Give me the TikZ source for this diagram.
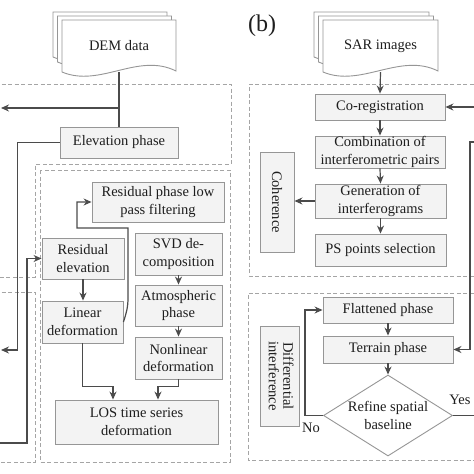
\documentclass[tikz,border=0pt]{standalone}
\usepackage{fontspec}
\setmainfont{Liberation Serif}
\usetikzlibrary{arrows.meta,shapes.geometric}
\definecolor{boxline}{RGB}{150,150,150}
\definecolor{boxfill}{RGB}{243,243,243}
\definecolor{lineclr}{RGB}{75,75,75}
\definecolor{dashclr}{RGB}{165,165,165}
\definecolor{txt}{RGB}{30,30,30}
\newcommand{\myfs}{\fontsize{14.5}{17.5}\selectfont}
\newcommand{\docshape}[4]{%
  \path[doc] (#1,{#2+#4}) -- (#1,#2) -- ({#1+#3},#2) -- ({#1+#3},{#2+#4-1})
    .. controls ({#1+#3-38},{#2+#4-20}) and ({#1+38},{#2+#4+16}) .. (#1,{#2+#4}) -- cycle;}
\begin{document}
\begin{tikzpicture}[x=1pt,y=-1pt,
  box/.style={draw=boxline, fill=boxfill, line width=0.9pt, inner sep=0pt, align=center, font=\myfs, text=txt},
  conn/.style={draw=lineclr, line width=1.2pt},
  arr/.style={conn, -{Stealth[length=8pt,width=7pt]}},
  dbox/.style={draw=dashclr, line width=0.8pt, dash pattern=on 4pt off 2.5pt},
  lbl/.style={font=\myfs, text=txt, inner sep=0pt},
  doc/.style={draw=boxline, fill=white, line width=0.9pt},
  doctext/.style={font=\myfs, text=txt, inner sep=0pt, minimum height=52pt},
]
\useasboundingbox (0,0) rectangle (474,474);
\clip (0,0) rectangle (474,474);

% dashed groups
\draw[dbox] (-5,84) -- (231,84) -- (231,164) -- (35,164) -- (35,277) -- (-5,277);
\draw[dbox] (-5,292) -- (35,292) -- (35,462) -- (-5,462);
\draw[dbox] (40,170) rectangle (230,462);
\draw[dbox] (480,84) -- (249,84) -- (249,276) -- (480,276);
\draw[dbox] (480,293) -- (248,293) -- (248,460) -- (480,460);

% document shapes
\docshape{53}{12}{114}{45}
\docshape{57.5}{16}{114}{46}
\docshape{62}{20}{114}{52}
\node[doctext, minimum width=114pt] (dem) at (119,46) {DEM data};

\docshape{314}{12}{115}{45}
\docshape{318.5}{16}{115}{46}
\docshape{323}{20}{115}{52}
\node[doctext, minimum width=115pt] (sar) at (380.5,46) {SAR images};

\node[font=\fontsize{24}{28}\selectfont, text=txt, inner sep=0pt] (lab) at (262,26) {(b)};

% panel a boxes
\node[box, minimum width=118pt, minimum height=31pt] (elev) at (119,142.5) {Elevation phase};
\node[box, minimum width=132pt, minimum height=40pt] (rplpf) at (158,202) {Residual phase low\\pass filtering};
\node[box, minimum width=82pt, minimum height=41pt] (relev) at (83,258.5) {Residual\\elevation};
\node[box, minimum width=87pt, minimum height=42pt] (svd) at (178.5,254) {SVD de-\\composition};
\node[box, minimum width=87pt, minimum height=41pt] (atm) at (178.5,305.5) {Atmospheric\\phase};
\node[box, minimum width=87pt, minimum height=42pt] (nonlin) at (178.5,358) {Nonlinear\\deformation};
\node[box, minimum width=81pt, minimum height=42pt] (lindef) at (82.5,322) {Linear\\deformation};
\node[box, minimum width=163pt, minimum height=44pt] (los) at (136.5,422) {LOS time series\\deformation};

% panel a connectors
\coordinate (outL1) at (1,108);
\coordinate (outL2) at (1,350);
\coordinate (inL) at (-3,443);
\draw[conn] (dem.south) -- (elev.north);
\draw[arr] (dem.south |- outL1) -- (outL1);
\draw[arr] (elev.west) -- ++(-42,0) |- (outL2);
\draw[arr] (inL) -- ++(30,0) |- (relev.west);
\draw[arr] (relev.south) -- (relev.south |- lindef.north);
\draw[arr] (lindef.east) .. controls (126,314) and (128,308) .. (128,298) -- (128,228) -- (77,228) |- (rplpf.west);
\draw[arr] (svd.south) -- (atm.north);
\draw[arr] (atm.south) -- (nonlin.north);
\draw[arr] (nonlin.south) -- ++(0,7) -| ([xshift=21.5pt]los.north);
\draw[arr] (lindef.south) -- ++(0,43) -| ([xshift=-23.5pt]los.north);

% panel b boxes
\node[box, minimum width=130pt, minimum height=26pt] (coreg) at (380,107) {Co-registration};
\node[box, minimum width=130pt, minimum height=32pt] (comb) at (380,152) {Combination of\\interferometric pairs};
\node[box, minimum width=131pt, minimum height=34pt] (gen) at (380.5,201) {Generation of\\interferograms};
\node[box, minimum width=131pt, minimum height=32pt] (ps) at (380.5,250) {PS points selection};
\node[box, minimum width=34pt, minimum height=100pt] (coh) at (277,202) {\rotatebox{-90}{Coherence}};

\node[box, minimum width=130pt, minimum height=26pt] (flat) at (388,310) {Flattened phase};
\node[box, minimum width=130pt, minimum height=27pt] (terr) at (388,349.5) {Terrain phase};
\node[draw=boxline, fill=white, line width=0.9pt, diamond, inner sep=0pt, minimum width=129pt, minimum height=81pt] (dia) at (388,415.5) {};
\node[lbl, align=center] (diatext) at (dia.center) {Refine spatial\\baseline};
\node[box, minimum width=39pt, minimum height=100pt] (diff) at (279.5,376) {\rotatebox{-90}{\begin{tabular}{@{}c@{}}Differential\\[-3pt]interference\end{tabular}}};
\node[lbl] (yes) at (460,400) {Yes};
\node[lbl] (no) at (311,428) {No};

% panel b connectors
\coordinate (inR1) at (476,107);
\coordinate (inR2) at (476,142);
\coordinate (outR) at (476,415.5);
\draw[arr] (sar.south) -- (coreg.north);
\draw[arr] (coreg.south) -- (comb.north);
\draw[arr] (comb.south) -- (gen.north);
\draw[arr] (gen.south) -- (ps.north);
\draw[arr] (gen.west) -- (gen.west -| coh.east);
\draw[arr] (inR1) -- (coreg.east);
\draw[arr] (inR2) -- ++(-6,0) |- (terr.east);
\draw[arr] (flat.south) -- (terr.north);
\draw[arr] (terr.south) -- (dia.north);
\draw[conn] (dia.east) -- (outR);
\draw[arr] (dia.west) -- ++(-18,0) |- (flat.west);
\end{tikzpicture}
\end{document}
